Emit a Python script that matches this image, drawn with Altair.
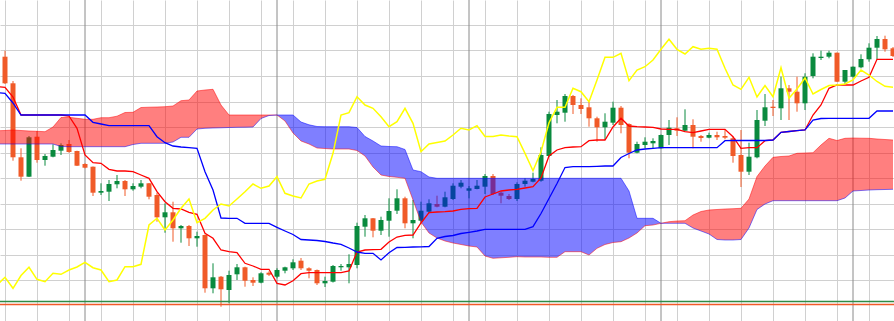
import altair as alt
import pandas as pd

# ---------------- data ----------------
bar_index = list(range(0, 112))
line_index = list(range(-1, 112))

open_ = [264.3, 237.7, 163.7, 144.3, 184.3, 161.0, 164.3, 170.3, 177.0, 170.0,
         157.0, 154.3, 128.3, 129.3, 136.7, 140.0, 131.7, 134.3, 137.7, 126.0,
         103.7, 108.7, 92.7, 95.0, 82.7, 86.0, 32.7, 44.3, 31.0, 46.7,
         53.7, 41.0, 38.3, 48.3, 44.3, 50.3, 52.7, 60.3, 52.7, 51.0,
         37.7, 39.3, 53.7, 53.7, 56.0, 94.3, 102.7, 90.3, 100.3, 110.3,
         122.7, 97.7, 100.3, 109.3, 117.0, 114.3, 122.0, 134.3, 130.3, 132.0,
         134.3, 145.0, 128.3, 125.0, 122.0, 137.0, 139.3, 140.3, 165.0, 206.0,
         208.3, 225.0, 216.0, 213.7, 202.7, 193.7, 198.3, 213.3, 197.0, 168.3,
         176.0, 177.7, 172.7, 186.0, 192.7, 190.3, 196.0, 185.0, 183.3, 186.0,
         185.0, 182.7, 166.0, 149.3, 163.7, 200.3, 214.3, 212.7, 232.7, 229.3,
         217.7, 245.0, 263.0, 264.3, 268.3, 239.3, 244.3, 253.7, 261.7, 273.3,
         282.0, 272.7]
high = [270.3, 240.0, 172.7, 185.0, 190.0, 167.0, 176.7, 177.7, 181.0, 170.3,
        157.7, 154.5, 137.7, 141.0, 146.0, 141.0, 137.7, 141.0, 138.0, 128.3,
        117.7, 119.3, 96.0, 96.0, 89.3, 86.5, 57.7, 45.0, 50.3, 57.0,
        54.3, 43.7, 48.7, 49.7, 52.7, 54.3, 61.7, 63.0, 53.7, 51.5,
        44.3, 56.0, 57.0, 66.7, 98.3, 106.0, 103.0, 104.3, 122.7, 131.7,
        124.3, 121.0, 119.3, 121.7, 125.3, 129.3, 137.7, 141.0, 135.0, 141.0,
        147.0, 147.0, 129.3, 127.0, 138.7, 142.7, 148.3, 173.7, 209.3, 221.0,
        227.0, 226.0, 222.7, 219.3, 204.3, 207.7, 219.3, 215.0, 197.7, 179.3,
        183.7, 182.7, 186.5, 201.0, 203.7, 211.7, 201.7, 186.0, 188.3, 189.3,
        191.0, 184.3, 191.0, 178.3, 211.0, 227.0, 221.0, 244.3, 236.0, 244.3,
        247.7, 267.7, 270.3, 270.3, 268.5, 251.0, 254.5, 266.7, 277.7, 285.0,
        285.3, 274.0]
low = [237.0, 160.3, 140.3, 144.0, 158.3, 155.3, 163.7, 166.0, 168.3, 155.0,
       152.7, 125.0, 126.0, 120.0, 132.7, 125.0, 130.3, 132.7, 121.7, 99.3,
       88.3, 79.3, 78.3, 75.0, 74.3, 28.3, 27.7, 14.3, 17.7, 41.0,
       34.3, 35.0, 37.7, 45.0, 42.7, 47.7, 51.0, 51.0, 42.7, 36.0,
       34.0, 38.5, 50.3, 37.7, 52.7, 84.3, 83.7, 86.0, 84.3, 107.0,
       92.7, 82.7, 97.7, 107.7, 113.7, 113.7, 121.0, 132.7, 122.7, 131.7,
       127.0, 126.0, 117.7, 121.0, 120.0, 134.3, 138.7, 139.3, 164.3, 197.7,
       199.3, 207.0, 207.0, 194.3, 179.3, 181.0, 196.0, 187.7, 162.7, 167.7,
       172.7, 172.7, 172.5, 176.0, 185.0, 190.0, 172.7, 179.3, 182.7, 181.0,
       181.7, 158.3, 134.0, 146.0, 162.7, 195.0, 205.0, 201.0, 201.0, 209.3,
       211.0, 242.7, 261.0, 262.7, 239.0, 237.0, 243.7, 252.7, 259.3, 261.7,
       269.3, 264.0]
close = [237.7, 163.7, 144.3, 183.7, 161.0, 165.0, 171.0, 176.0, 169.0, 155.3,
         153.3, 128.3, 130.0, 137.0, 140.0, 131.7, 135.0, 137.7, 124.3, 103.7,
         108.7, 92.7, 95.0, 82.7, 85.0, 32.7, 43.7, 31.7, 46.0, 53.7,
         40.3, 38.3, 47.7, 46.3, 51.0, 53.7, 58.7, 52.7, 50.3, 37.7,
         40.0, 55.0, 55.0, 57.0, 95.0, 102.7, 90.3, 101.0, 110.0, 122.7,
         97.7, 101.0, 110.3, 117.7, 114.3, 123.7, 135.3, 138.3, 132.7, 135.3,
         145.0, 127.0, 125.3, 122.0, 137.0, 140.3, 142.0, 166.0, 207.0, 209.3,
         225.0, 216.0, 212.0, 202.7, 193.7, 199.3, 213.3, 196.0, 168.3, 177.0,
         179.3, 180.0, 186.0, 193.3, 190.3, 196.0, 184.3, 183.0, 186.0, 183.7,
         183.3, 165.0, 149.3, 164.3, 201.0, 213.7, 213.0, 232.7, 229.3, 217.7,
         244.3, 264.3, 264.3, 268.3, 239.3, 251.0, 254.3, 262.0, 273.3, 282.0,
         271.7, 265.0]

tenkan = [234.3, 233.7, 224.0, 206.0, 206.0, 206.0, 206.0, 206.0, 206.0, 205.0,
          192.7, 166.0, 158.3, 157.7, 151.7, 150.0, 150.0, 149.3, 146.0, 142.7,
          129.3, 119.3, 112.7, 112.0, 108.7, 106.7, 87.7, 82.7, 71.0, 69.3,
          68.3, 57.7, 55.0, 51.7, 51.7, 37.7, 36.0, 40.3, 47.3, 48.3,
          48.3, 48.3, 48.3, 48.3, 50.0, 69.0, 71.0, 71.3, 71.7, 79.0,
          84.0, 85.7, 86.0, 98.0, 108.3, 109.0, 109.3, 110.0, 111.7, 112.3,
          112.7, 124.0, 127.0, 130.0, 131.0, 131.7, 133.0, 134.3, 143.0, 165.0,
          171.0, 173.3, 174.0, 174.3, 180.3, 181.0, 181.0, 194.0, 202.7, 195.0,
          194.3, 194.0, 193.7, 192.0, 191.7, 191.7, 189.3, 188.3, 190.0, 191.7,
          191.7, 191.7, 184.3, 172.7, 173.3, 173.3, 180.3, 181.0, 188.7, 189.5,
          190.3, 191.0, 206.0, 216.0, 232.7, 236.0, 236.0, 236.0, 240.0, 243.7,
          261.7, 261.7, 261.7]
kijun = [228.3, 227.7, 218.0, 206.0, 206.0, 206.0, 206.0, 206.0, 206.0, 206.0,
         206.0, 206.0, 198.7, 197.0, 195.3, 195.3, 195.3, 195.3, 195.3, 195.3,
         184.3, 178.3, 175.0, 174.0, 173.3, 172.7, 149.3, 131.0, 103.0, 102.7,
         102.7, 97.7, 97.7, 97.7, 97.7, 93.7, 90.0, 86.5, 81.5, 81.0,
         80.5, 79.5, 78.0, 76.7, 73.0, 69.0, 67.7, 67.7, 61.0, 68.3,
         73.5, 73.7, 74.0, 74.2, 74.5, 82.7, 84.5, 85.5, 87.5, 88.7,
         90.0, 91.7, 91.7, 91.7, 91.7, 91.7, 91.7, 94.3, 107.5, 122.5,
         137.5, 153.5, 154.3, 154.3, 154.3, 154.7, 155.0, 155.0, 163.5, 167.5,
         171.0, 172.0, 172.7, 173.3, 173.3, 173.3, 173.3, 173.3, 173.3, 173.3,
         173.3, 180.3, 180.5, 180.5, 180.5, 180.5, 180.5, 181.0, 188.7, 189.5,
         190.3, 191.0, 201.0, 202.5, 202.7, 202.7, 202.7, 202.7, 202.7, 202.7,
         210.0, 210.0, 210.0]
chikou = [36.0, 43.7, 32.7, 45.5, 53.7, 41.7, 39.3, 47.7, 46.7, 51.0,
          54.0, 58.7, 53.3, 51.0, 39.3, 41.0, 54.3, 54.3, 56.7, 96.0,
          102.7, 91.0, 101.0, 112.7, 122.0, 98.3, 102.7, 111.0, 117.0, 115.0,
          122.0, 129.3, 137.0, 132.7, 135.0, 144.3, 127.7, 125.0, 123.0, 137.0,
          140.0, 141.7, 167.7, 206.0, 208.3, 224.3, 216.0, 212.7, 204.3, 194.3,
          199.3, 212.7, 197.7, 169.3, 177.0, 178.5, 180.0, 186.0, 192.7, 191.0,
          195.3, 184.5, 184.5, 186.0, 185.0, 184.3, 167.7, 150.3, 169.3, 198.3,
          213.7, 213.7, 232.7, 229.3, 219.3, 241.0, 263.7, 263.7, 267.7, 240.3,
          251.0, 254.3, 261.0, 271.7, 281.7, 271.7, 267.0, 274.3, 271.7, 272.7,
          271.7, 252.7, 236.0, 231.7, 243.7, 224.0, 235.5, 224.3, 253.3, 222.7,
          232.0, 243.0, 227.0, 231.5, 235.5, 236.0, 237.0, 241.0, 251.0, 246.0,
          239.5, 234.7, 233.7]
span_a = [190.3, 190.5, 191.0, 190.5, 190.0, 189.7, 189.3, 194.0, 203.5, 203.7,
          202.7, 201.7, 201.7, 203.3, 203.3, 204.8, 208.5, 208.7, 213.5, 213.8,
          214.0, 214.3, 215.0, 220.3, 221.0, 230.0, 231.0, 231.7, 216.0, 206.0,
          206.0, 206.0, 206.0, 206.0, 206.0, 206.0, 200.0, 188.0, 180.0, 177.0,
          173.0, 172.5, 172.0, 172.0, 172.0, 170.5, 165.0, 154.0, 146.0, 144.5,
          143.7, 142.7, 121.0, 99.0, 88.0, 83.0, 80.0, 78.0, 76.5, 75.0,
          74.0, 65.0, 62.7, 63.2, 63.7, 64.3, 64.0, 64.0, 64.0, 63.7,
          63.7, 69.3, 69.3, 69.3, 66.0, 72.7, 76.5, 78.5, 79.3, 83.0,
          88.0, 95.3, 96.0, 97.7, 99.3, 100.0, 100.3, 106.0, 109.5, 111.0,
          111.5, 112.0, 112.3, 112.7, 122.0, 144.5, 155.0, 163.7, 164.5, 165.0,
          167.7, 168.0, 168.3, 176.0, 182.7, 180.5, 182.7, 183.0, 182.8, 182.7,
          182.0, 181.5, 181.0]
span_b = [177.0, 177.0, 177.0, 177.0, 177.0, 177.0, 177.0, 177.0, 174.5, 174.3,
          174.3, 174.3, 174.3, 174.3, 174.3, 174.3, 174.3, 176.5, 177.7, 177.7,
          177.7, 177.7, 179.0, 183.7, 183.7, 192.0, 192.7, 193.0, 193.2, 193.5,
          193.7, 193.8, 194.0, 202.5, 205.5, 206.0, 206.0, 206.0, 199.0, 196.2,
          194.5, 194.3, 194.3, 194.3, 194.3, 193.5, 184.5, 180.0, 175.0, 174.5,
          174.3, 171.5, 151.0, 149.3, 144.0, 142.7, 142.7, 142.7, 142.7, 142.7,
          142.7, 142.7, 142.7, 142.7, 142.7, 142.7, 142.7, 142.7, 142.7, 142.7,
          142.7, 142.7, 142.7, 142.7, 142.7, 142.7, 142.7, 142.7, 142.7, 130.0,
          102.7, 102.7, 102.7, 97.7, 97.7, 97.7, 97.7, 93.0, 90.0, 87.0,
          81.5, 81.0, 81.0, 81.5, 93.0, 111.5, 117.0, 120.3, 120.3, 120.3,
          120.3, 120.3, 120.3, 120.3, 120.3, 120.3, 123.0, 130.0, 130.5, 131.0,
          131.3, 131.5, 131.7]

level_values = [19.5, 16.5]
level_colors = ["#2e8b45", "#f05a28"]

grid_x = [0, 4, 8, 12, 16, 20, 24, 28, 32, 36, 40, 44, 48, 52, 56, 60, 64, 68,
          72, 76, 80, 84, 88, 92, 96, 100, 104, 108]
day_breaks = [10, 34, 58, 82, 106]
grid_y = [41, 66.5, 92, 117.5, 143, 168.5, 194, 219.5, 245, 270.5, 296]

UP, DOWN = "#0a8a3e", "#f05a28"

# ---------------- tables ----------------
candles = pd.DataFrame({"i": bar_index, "open": open_, "high": high,
                        "low": low, "close": close})
candles["dir"] = ["up" if c >= o else "down" for o, c in zip(open_, close)]

lines = pd.DataFrame({"i": line_index, "tenkan": tenkan, "kijun": kijun,
                      "chikou": chikou, "a": span_a, "b": span_b})

# cloud split into runs where span A is above / below span B
pts = []
for k in range(len(line_index) - 1):
    x0, a0, b0 = line_index[k], span_a[k], span_b[k]
    x1, a1, b1 = line_index[k + 1], span_a[k + 1], span_b[k + 1]
    pts.append((x0, a0, b0))
    d0, d1 = a0 - b0, a1 - b1
    if d0 * d1 < 0:
        t = d0 / (d0 - d1)
        v = a0 + t * (a1 - a0)
        pts.append((x0 + t, v, v))
pts.append((line_index[-1], span_a[-1], span_b[-1]))

runs = []
run = [pts[0]]
sign = 0
for p in pts[1:]:
    q = run[-1]
    s = (q[1] + p[1]) - (q[2] + p[2])
    s = 1 if s > 1e-9 else (-1 if s < -1e-9 else 0)
    if sign == 0 or s == 0 or s == sign:
        run.append(p)
        if sign == 0:
            sign = s
    else:
        runs.append((sign, run))
        run = [q, p]
        sign = s
runs.append((sign, run))

rows = []
for rid, (sg, r) in enumerate(runs):
    for (x, a, b) in r:
        rows.append({"i": x, "a": a, "b": b, "run": rid,
                     "side": "bull" if sg >= 0 else "bear"})
cloud = pd.DataFrame(rows)

# ---------------- encodings ----------------
x_scale = alt.Scale(domain=[-0.625, 111.125], nice=False, zero=False, padding=0)
y_scale = alt.Scale(domain=[0, 321], nice=False, zero=False, padding=0)
x_axis = alt.Axis(values=grid_x, grid=True, labels=False, ticks=False,
                  domain=False, title=None, gridColor="#d0d0d0", gridWidth=1)
y_axis = alt.Axis(values=grid_y, grid=True, labels=False, ticks=False,
                  domain=False, title=None, gridColor="#d0d0d0", gridWidth=1)


def X(f="i"):
    return alt.X(f"{f}:Q", scale=x_scale, axis=x_axis)


def Y(f):
    return alt.Y(f"{f}:Q", scale=y_scale, axis=y_axis)


layers = []

# dark day separators
layers.append(
    alt.Chart(pd.DataFrame({"i": day_breaks}))
    .mark_rule(color="#8a8a8a", strokeWidth=1)
    .encode(x=X())
)

for d, col in (("up", UP), ("down", DOWN)):
    base = alt.Chart(candles).transform_filter(alt.datum.dir == d)
    layers.append(base.mark_rule(color=col, strokeWidth=1, clip=True)
                  .encode(x=X(), y=Y("low"), y2="high"))
    layers.append(base.mark_bar(color=col, size=5, clip=True)
                  .encode(x=X(), y=Y("open"), y2="close"))

for side, col in (("bull", "#ff0000"), ("bear", "#0000ff")):
    layers.append(
        alt.Chart(cloud).transform_filter(alt.datum.side == side)
        .mark_area(color=col, opacity=0.5, clip=True)
        .encode(x=X(), y=Y("a"), y2="b", detail="run:N")
    )

for field, col, w, op in (("a", "#ff0000", 1, 0.5), ("b", "#0000ff", 1, 0.5),
                          ("tenkan", "#ff0000", 1.3, 1), ("kijun", "#0000ff", 1.3, 1),
                          ("chikou", "#ffff00", 1.5, 1)):
    layers.append(
        alt.Chart(lines).mark_line(color=col, strokeWidth=w, opacity=op, clip=True)
        .encode(x=X(), y=Y(field))
    )

for v, col in zip(level_values, level_colors):
    layers.append(
        alt.Chart(pd.DataFrame({"level": [v]}))
        .mark_rule(color=col, strokeWidth=1.3)
        .encode(y=Y("level"))
    )

chart = (
    alt.layer(*layers)
    .properties(width=894, height=321, padding=0,
                autosize=alt.AutoSizeParams(type="none"),
                background="white")
    .configure_view(strokeWidth=0)
)

chart.save("out.html", embed_options={"renderer": "svg", "actions": False})
